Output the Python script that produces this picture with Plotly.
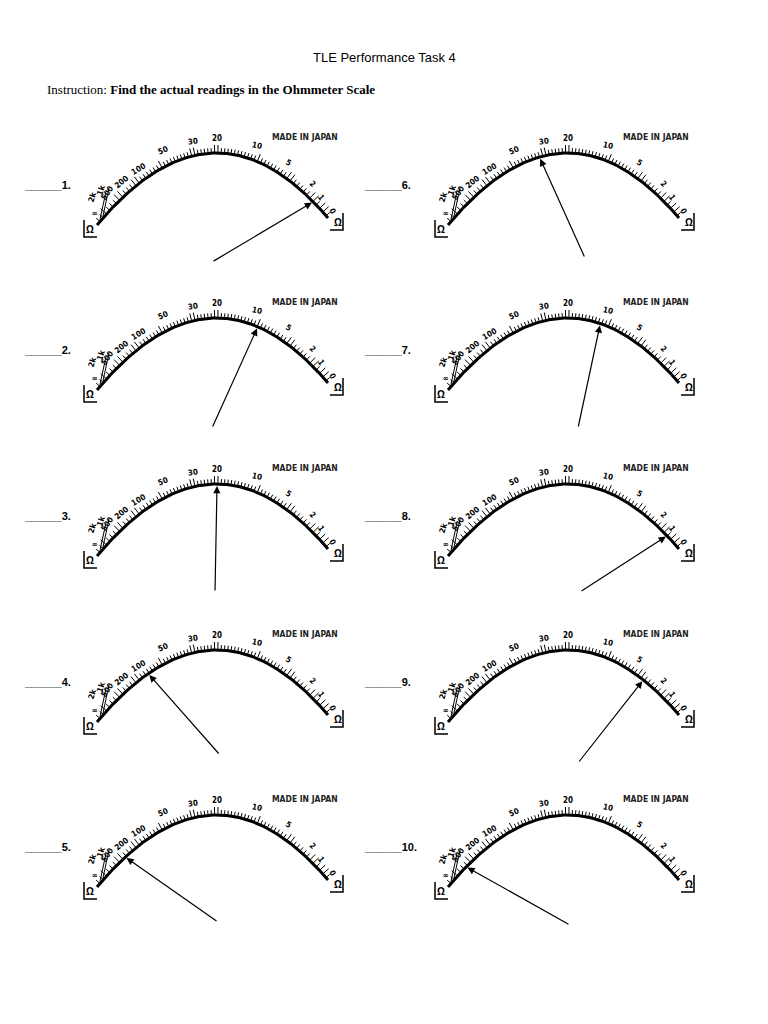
import numpy as np
import plotly.graph_objects as go

scale_labels = ["∞", "2k", "1k", "500", "200", "100", "50", "30", "20", "10", "5", "2", "1", "0"]
scale_values = [np.inf, 2000, 1000, 500, 200, 100, 50, 30, 20, 10, 5, 2, 1, 0]
label_x = [95, 92, 101, 107, 121, 138, 163, 193, 217, 257, 288, 312, 321, 332]
label_lift = [14, 34, 30, 20, 17, 15, 17, 14, 15, 16, 17, 17, 13, 12]
label_angle = [0, -72, -72, -55, -40, -30, -22, -8, 0, 12, 30, 45, 55, 60]

item_numbers = [1, 2, 3, 4, 5, 6, 7, 8, 9, 10]
readings = [2, 10, 20, 73, 160, 32, 11.5, 1.6, 4.4, 270]
pointer_tail_x = [212, 212, 215, 220, 218, 234, 227, 229, 227, 219]
pointer_tail_dy = [109, 110, 108, 105, 107, 105, 110, 108, 113, 110]

row_top = [153, 318, 484, 650, 815]
col_dx = [0, 351]

def arc_a(x):
    return np.where(x < 217, 72 / 120**2, 65 / 111**2)

def arc_y(x, top):
    return top + arc_a(x) * (x - 217) ** 2

def reading_to_x(r):
    vals = scale_values[3:-1]
    xs = label_x[3:-1]
    lv = np.log(vals)[::-1]
    return float(np.interp(np.log(r), lv, xs[::-1]))

fig = go.Figure()
ann = []

for i, n in enumerate(item_numbers):
    col, row = divmod(i, 5)
    dx, top = col_dx[col], row_top[row]
    xs = np.linspace(97, 328, 200)
    fig.add_trace(go.Scatter(x=xs + dx, y=arc_y(xs, top), mode="lines",
                             line=dict(color="black", width=3), hoverinfo="skip"))
    tx, ty = [], []
    for x in np.linspace(100, 326, 70):
        y = float(arc_y(np.array(x), top))
        slope = float(2 * arc_a(np.array(x)) * (x - 217))
        L = np.hypot(slope, 1.0)
        major = min(abs(x - lx) for lx in label_x[3:]) < 2.5
        ln = 8 if major else 5
        tx += [x + dx, x + dx + slope / L * ln, None]
        ty += [y, y - ln / L, None]
    fig.add_trace(go.Scatter(x=tx, y=ty, mode="lines", line=dict(color="black", width=1),
                             hoverinfo="skip"))
    for bx in (100, 103):
        by = float(arc_y(np.array(bx), top))
        fig.add_trace(go.Scatter(x=[bx + dx, bx + dx + 6], y=[by - 2, by - 30], mode="lines",
                                 line=dict(color="black", width=1), hoverinfo="skip"))
    ly0 = float(arc_y(np.array(97.0), top))
    ry0 = float(arc_y(np.array(328.0), top))
    fig.add_trace(go.Scatter(x=[84 + dx, 84 + dx, 97 + dx, None, 343 + dx, 343 + dx, 330 + dx],
                             y=[ly0 - 5, ly0 + 12, ly0 + 12, None, ry0 - 5, ry0 + 12, ry0 + 12],
                             mode="lines", line=dict(color="black", width=1.5), hoverinfo="skip"))
    for lab, lx, lift, ang in zip(scale_labels, label_x, label_lift, label_angle):
        ly = float(arc_y(np.array(lx), top)) - lift
        ann.append(dict(x=lx + dx, y=ly, text=f"<b>{lab}</b>", showarrow=False, textangle=ang,
                        font=dict(size=8, family="DejaVu Sans Condensed", color="black")))
    ann.append(dict(x=305 + dx, y=top - 16, text="<b>MADE IN JAPAN</b>", showarrow=False,
                    font=dict(size=8.5, family="DejaVu Sans Condensed", color="#222")))
    for ox, oy in ((90, ly0 + 4), (338, ry0 + 4)):
        ann.append(dict(x=ox + dx, y=oy, text="<b>Ω</b>", showarrow=False,
                        font=dict(size=10, color="black")))
    tipx = reading_to_x(readings[i])
    tipy = float(arc_y(np.array(tipx), top)) + 2
    ann.append(dict(x=tipx + dx, y=tipy, ax=pointer_tail_x[i] + dx, ay=top + pointer_tail_dy[i],
                    axref="x", ayref="y", xref="x", yref="y", text="", showarrow=True,
                    arrowhead=2, arrowsize=1.2, arrowwidth=1.2, arrowcolor="black"))
    bx = 22 if col == 0 else 362
    ann.append(dict(x=bx, y=top + 32, xanchor="left",
                    text=f"<b>______{n}.</b>", showarrow=False,
                    font=dict(size=11, family="Liberation Sans", color="black")))

ann.append(dict(x=384, y=57, text="TLE Performance Task 4", showarrow=False,
                font=dict(size=13, family="Liberation Sans", color="black")))
ann.append(dict(x=45, y=89, xanchor="left",
                text="Instruction: <b>Find the actual readings in the Ohmmeter Scale</b>",
                showarrow=False, font=dict(size=13, family="Liberation Serif", color="black")))

fig.update_layout(width=768, height=1024, margin=dict(l=0, r=0, t=0, b=0),
                  plot_bgcolor="white", paper_bgcolor="white", showlegend=False,
                  annotations=ann,
                  xaxis=dict(range=[8, 776], visible=False, fixedrange=True),
                  yaxis=dict(range=[1032, 8], visible=False, fixedrange=True))
fig.write_html("out.html")
